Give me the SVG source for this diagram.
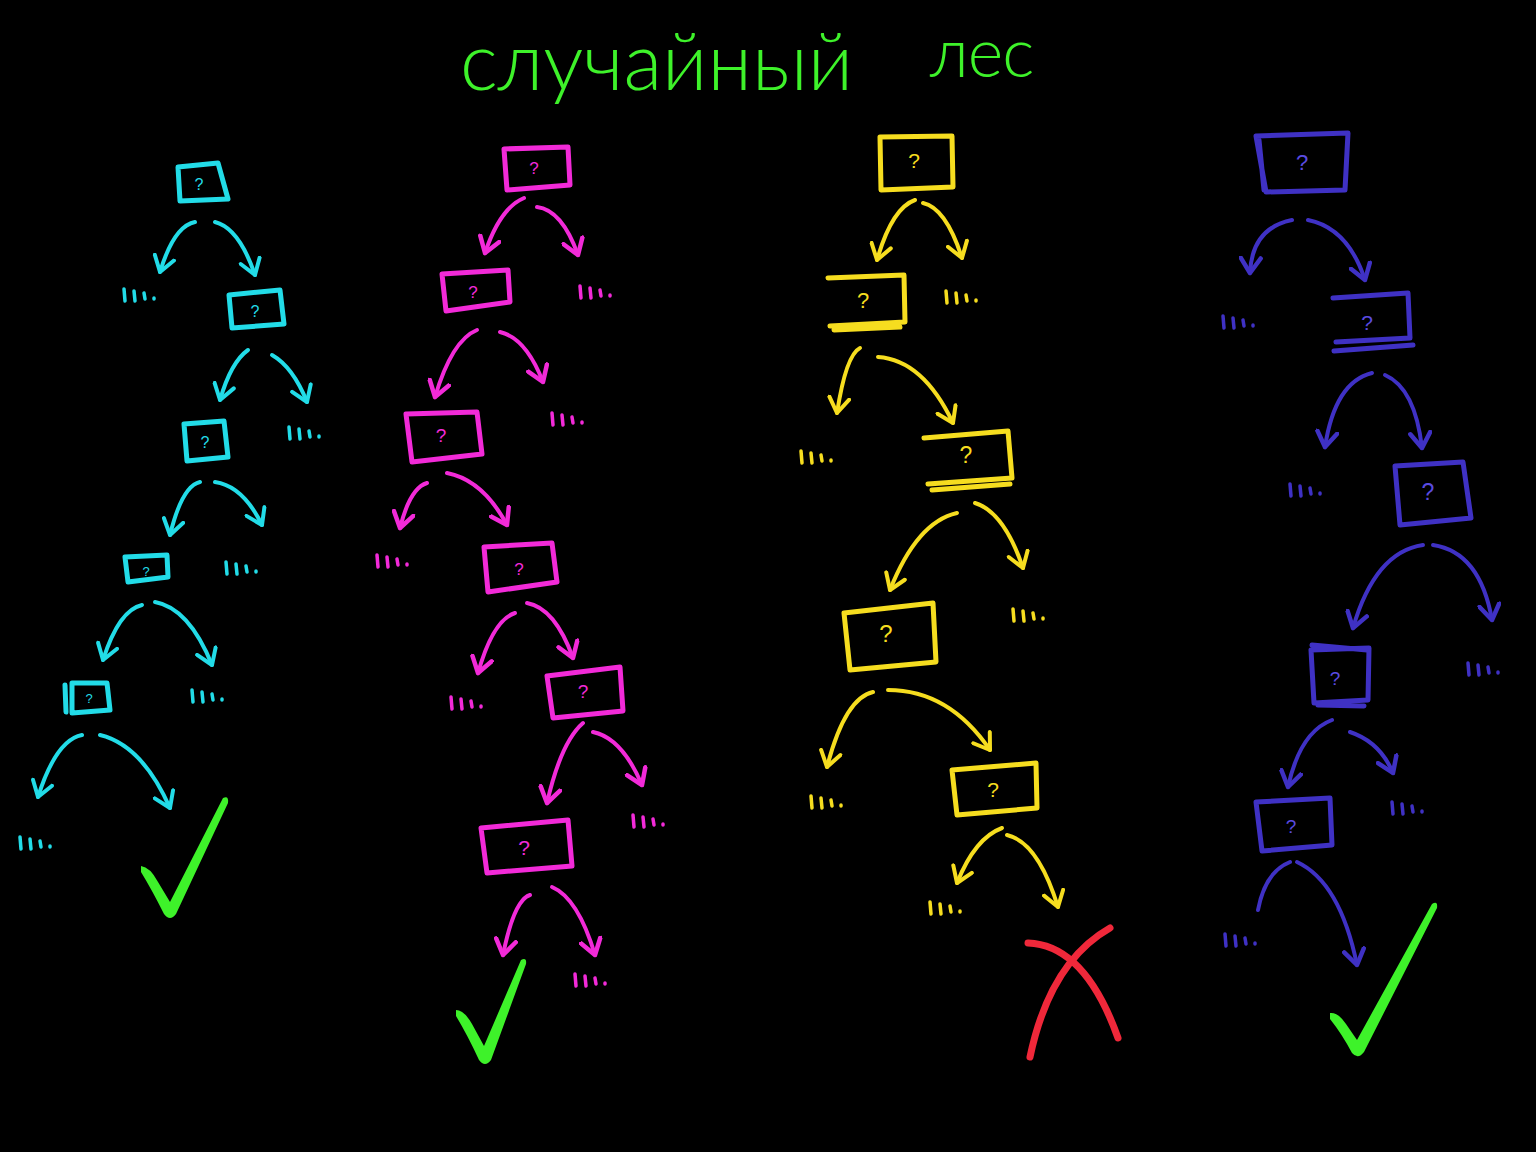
<svg xmlns="http://www.w3.org/2000/svg" xmlns:xlink="http://www.w3.org/1999/xlink" width="1536" height="1152" viewBox="0 0 1536 1152">
<style>
.bg{fill:#000}
.box{fill:none;stroke-width:5;stroke-linejoin:round;stroke-linecap:round}
.q{font-family:"Liberation Sans",Arial,sans-serif;text-anchor:middle}
.arr{fill:none;stroke-width:4;stroke-linecap:round}
.cy{stroke:#22dce8;color:#22dce8}
.mg{stroke:#f22ad8;color:#f22ad8}
.ye{stroke:#f6dd1f;color:#f6dd1f}
.bl{stroke:#3f31c4;color:#3f31c4}
.tcy{fill:#22dce8}.tmg{fill:#f22ad8}.tye{fill:#f6dd1f}.tbl{fill:#5a4be0}
.title{font-family:"Lato","Liberation Sans",sans-serif;font-weight:300;fill:#3ef22a}
.ok{fill:#3ef22a}
.no{fill:none;stroke:#f0283a;stroke-width:7;stroke-linecap:round}
</style>
<defs>
<marker id="hcy" viewBox="0 0 20 24" refX="17" refY="12" markerWidth="20" markerHeight="24" markerUnits="userSpaceOnUse" orient="auto"><path d="M2,2 L17,12 L2,22" fill="none" stroke="#22dce8" stroke-width="4" stroke-linecap="round" stroke-linejoin="round"/></marker>
<marker id="hmg" viewBox="0 0 20 24" refX="17" refY="12" markerWidth="20" markerHeight="24" markerUnits="userSpaceOnUse" orient="auto"><path d="M2,2 L17,12 L2,22" fill="none" stroke="#f22ad8" stroke-width="4.5" stroke-linecap="round" stroke-linejoin="round"/></marker>
<marker id="hye" viewBox="0 0 20 24" refX="17" refY="12" markerWidth="20" markerHeight="24" markerUnits="userSpaceOnUse" orient="auto"><path d="M2,2 L17,12 L2,22" fill="none" stroke="#f6dd1f" stroke-width="4" stroke-linecap="round" stroke-linejoin="round"/></marker>
<marker id="hbl" viewBox="0 0 20 24" refX="17" refY="12" markerWidth="20" markerHeight="24" markerUnits="userSpaceOnUse" orient="auto"><path d="M2,2 L17,12 L2,22" fill="none" stroke="#3f31c4" stroke-width="4.5" stroke-linecap="round" stroke-linejoin="round"/></marker>
<path id="ell" d="M0,-12 L1,0 M10,-10 L11,0 M20,-8 L21,-2 M30,-3 L30,-2" fill="none" stroke="currentColor" stroke-width="3.5" stroke-linecap="round"/>
</defs>
<rect class="bg" x="0" y="0" width="1536" height="1152"/>

<g id="title">
<text class="title" x="460" y="90" font-size="80">случайный</text>
<text class="title" x="930" y="77" font-size="68" letter-spacing="-1">лес</text>
</g>

<g id="tree-cyan">
<g id="c1"><path class="box cy" d="M178,167 L218,163 L228,199 L180,201 Z"/><text class="q tcy" x="199" y="190" font-size="16">?</text></g>
<g id="c2"><path class="box cy" d="M229,295 L280,290 L284,324 L232,328 Z"/><text class="q tcy" x="255" y="317" font-size="16">?</text></g>
<g id="c3"><path class="box cy" d="M184,424 L224,421 L228,457 L187,461 Z"/><text class="q tcy" x="205" y="448" font-size="16">?</text></g>
<g id="c4"><path class="box cy" d="M125,557 L167,555 L168,577 L128,582 Z"/><text class="q tcy" x="146" y="576" font-size="13">?</text></g>
<g id="c5"><path class="box cy" d="M72,683 L107,683 L110,710 L72,713 Z M65,685 L66,712"/><text class="q tcy" x="89" y="703" font-size="13">?</text></g>
</g>

<g id="tree-magenta">
<g id="m1"><path class="box mg" d="M504,149 L568,147 L570,185 L507,190 Z"/><text class="q tmg" x="534" y="174" font-size="17">?</text></g>
<g id="m2"><path class="box mg" d="M442,274 L508,270 L510,302 L446,311 Z"/><text class="q tmg" x="473" y="298" font-size="17">?</text></g>
<g id="m3"><path class="box mg" d="M406,414 L477,412 L482,454 L412,462 Z"/><text class="q tmg" x="441" y="442" font-size="19">?</text></g>
<g id="m4"><path class="box mg" d="M484,547 L552,543 L557,582 L488,592 Z"/><text class="q tmg" x="519" y="575" font-size="17">?</text></g>
<g id="m5"><path class="box mg" d="M547,676 L620,667 L623,711 L553,718 Z"/><text class="q tmg" x="583" y="698" font-size="19">?</text></g>
<g id="m6"><path class="box mg" d="M481,828 L568,820 L572,866 L487,873 Z"/><text class="q tmg" x="524" y="855" font-size="21">?</text></g>
</g>

<g id="tree-yellow">
<g id="y1"><path class="box ye" d="M880,137 L952,136 L953,187 L881,190 Z"/><text class="q tye" x="914" y="168" font-size="21">?</text></g>
<g id="y2"><path class="box ye" d="M828,278 L904,275 L905,322 L830,326 M834,330 L900,327"/><text class="q tye" x="863" y="308" font-size="22">?</text></g>
<g id="y3"><path class="box ye" d="M924,438 L1008,431 L1012,478 L928,484 M932,490 L1010,484"/><text class="q tye" x="966" y="463" font-size="23">?</text></g>
<g id="y4"><path class="box ye" d="M844,613 L933,603 L936,662 L850,670 Z"/><text class="q tye" x="886" y="642" font-size="24">?</text></g>
<g id="y5"><path class="box ye" d="M952,770 L1036,763 L1037,808 L957,815 Z"/><text class="q tye" x="993" y="797" font-size="21">?</text></g>
</g>

<g id="tree-blue">
<g id="b1"><path class="box bl" d="M1256,136 L1348,133 L1345,190 L1266,192 Z M1259,140 L1264,190" stroke-width="7"/><text class="q tbl" x="1302" y="170" font-size="22">?</text></g>
<g id="b2"><path class="box bl" d="M1333,298 L1408,293 L1410,338 L1336,342 M1334,351 L1413,345"/><text class="q tbl" x="1367" y="330" font-size="21">?</text></g>
<g id="b3"><path class="box bl" d="M1395,466 L1463,462 L1471,518 L1400,525 Z"/><text class="q tbl" x="1428" y="500" font-size="23">?</text></g>
<g id="b4"><path class="box bl" d="M1311,650 L1369,648 L1368,700 L1314,703 Z M1312,645 L1367,650 M1318,705 L1364,706" stroke-width="6"/><text class="q tbl" x="1335" y="685" font-size="19">?</text></g>
<g id="b5"><path class="box bl" d="M1256,802 L1330,798 L1332,845 L1262,851 Z" stroke-width="7"/><text class="q tbl" x="1291" y="833" font-size="19">?</text></g>
</g>

<g id="ellipses">
<use href="#ell" x="124" y="301" style="color:#22dce8"/>
<use href="#ell" x="289" y="439" style="color:#22dce8"/>
<use href="#ell" x="226" y="574" style="color:#22dce8"/>
<use href="#ell" x="192" y="702" style="color:#22dce8"/>
<use href="#ell" x="20" y="849" style="color:#22dce8"/>
<use href="#ell" x="580" y="298" style="color:#f22ad8"/>
<use href="#ell" x="552" y="425" style="color:#f22ad8"/>
<use href="#ell" x="377" y="567" style="color:#f22ad8"/>
<use href="#ell" x="451" y="709" style="color:#f22ad8"/>
<use href="#ell" x="633" y="827" style="color:#f22ad8"/>
<use href="#ell" x="575" y="986" style="color:#f22ad8"/>
<use href="#ell" x="801" y="463" style="color:#f6dd1f"/>
<use href="#ell" x="946" y="303" style="color:#f6dd1f"/>
<use href="#ell" x="1013" y="621" style="color:#f6dd1f"/>
<use href="#ell" x="811" y="808" style="color:#f6dd1f"/>
<use href="#ell" x="930" y="914" style="color:#f6dd1f"/>
<use href="#ell" x="1223" y="328" style="color:#3f31c4"/>
<use href="#ell" x="1290" y="496" style="color:#3f31c4"/>
<use href="#ell" x="1468" y="675" style="color:#3f31c4"/>
<use href="#ell" x="1392" y="814" style="color:#3f31c4"/>
<use href="#ell" x="1225" y="946" style="color:#3f31c4"/>
</g>

<g id="connectors">
<path class="arr cy" marker-end="url(#hcy)" d="M195,222 Q174,226 160,272"/>
<path class="arr cy" marker-end="url(#hcy)" d="M215,222 Q239,228 255,275"/>
<path class="arr cy" marker-end="url(#hcy)" d="M248,350 Q231,362 220,400"/>
<path class="arr cy" marker-end="url(#hcy)" d="M272,355 Q293,367 307,402"/>
<path class="arr cy" marker-end="url(#hcy)" d="M200,482 Q182,486 170,535"/>
<path class="arr cy" marker-end="url(#hcy)" d="M215,482 Q243,486 262,525"/>
<path class="arr cy" marker-end="url(#hcy)" d="M142,605 Q119,610 103,660"/>
<path class="arr cy" marker-end="url(#hcy)" d="M155,602 Q189,608 212,665"/>
<path class="arr cy" marker-end="url(#hcy)" d="M82,735 Q56,740 38,797"/>
<path class="arr cy" marker-end="url(#hcy)" d="M100,735 Q142,745 170,808"/>

<path class="arr mg" marker-end="url(#hmg)" d="M524,198 Q500,208 485,253"/>
<path class="arr mg" marker-end="url(#hmg)" d="M537,207 Q562,210 578,255"/>
<path class="arr mg" marker-end="url(#hmg)" d="M477,330 Q452,340 435,397"/>
<path class="arr mg" marker-end="url(#hmg)" d="M500,332 Q526,338 543,382"/>
<path class="arr mg" marker-end="url(#hmg)" d="M427,483 Q410,488 400,528"/>
<path class="arr mg" marker-end="url(#hmg)" d="M447,473 Q483,480 507,525"/>
<path class="arr mg" marker-end="url(#hmg)" d="M515,613 Q493,620 478,673"/>
<path class="arr mg" marker-end="url(#hmg)" d="M527,603 Q555,608 573,658"/>
<path class="arr mg" marker-end="url(#hmg)" d="M583,723 Q561,742 547,803"/>
<path class="arr mg" marker-end="url(#hmg)" d="M593,732 Q622,738 642,785"/>
<path class="arr mg" marker-end="url(#hmg)" d="M530,895 Q514,900 503,955"/>
<path class="arr mg" marker-end="url(#hmg)" d="M552,887 Q578,898 595,955"/>

<path class="arr ye" marker-end="url(#hye)" d="M915,200 Q892,208 877,260"/>
<path class="arr ye" marker-end="url(#hye)" d="M923,203 Q946,208 962,258"/>
<path class="arr ye" marker-end="url(#hye)" d="M860,348 Q846,355 837,413"/>
<path class="arr ye" marker-end="url(#hye)" d="M878,357 Q923,360 953,423"/>
<path class="arr ye" marker-end="url(#hye)" d="M957,513 Q917,522 890,590"/>
<path class="arr ye" marker-end="url(#hye)" d="M975,503 Q1004,512 1023,568"/>
<path class="arr ye" marker-end="url(#hye)" d="M873,692 Q845,698 827,767"/>
<path class="arr ye" marker-end="url(#hye)" d="M888,690 Q949,690 990,750"/>
<path class="arr ye" marker-end="url(#hye)" d="M1002,828 Q975,838 957,883"/>
<path class="arr ye" marker-end="url(#hye)" d="M1007,835 Q1038,842 1058,907"/>

<path class="arr bl" marker-end="url(#hbl)" d="M1292,220 Q1252,228 1250,273"/>
<path class="arr bl" marker-end="url(#hbl)" d="M1308,220 Q1348,228 1365,280"/>
<path class="arr bl" marker-end="url(#hbl)" d="M1372,373 Q1335,382 1325,447"/>
<path class="arr bl" marker-end="url(#hbl)" d="M1385,375 Q1415,388 1422,448"/>
<path class="arr bl" marker-end="url(#hbl)" d="M1423,545 Q1375,552 1353,628"/>
<path class="arr bl" marker-end="url(#hbl)" d="M1433,545 Q1480,552 1492,620"/>
<path class="arr bl" marker-end="url(#hbl)" d="M1332,720 Q1300,732 1288,787"/>
<path class="arr bl" marker-end="url(#hbl)" d="M1350,732 Q1380,742 1393,773"/>
<path class="arr bl" d="M1290,862 Q1265,872 1258,910"/>
<path class="arr bl" marker-end="url(#hbl)" d="M1297,862 Q1340,882 1357,965"/>
</g>

<g id="verdicts">
<path id="check-cyan" class="ok" d="M141,866 Q150,867 158,882 L170,902 L223,798 Q229,795 228,803 L176,914 Q170,922 164,914 Q152,890 141,872 Z"/>
<path id="check-magenta" class="ok" d="M456,1010 Q464,1010 472,1024 L484,1046 L521,960 Q527,957 526,964 L491,1060 Q485,1068 479,1060 Q468,1036 456,1016 Z"/>
<path id="cross-yellow" class="no" d="M1028,943 Q1085,945 1118,1038 M1110,928 Q1050,962 1030,1057"/>
<path id="check-blue" class="ok" d="M1330,1013 Q1338,1012 1346,1024 L1357,1040 L1432,904 Q1438,900 1437,908 L1364,1052 Q1358,1060 1352,1053 Q1342,1034 1330,1019 Z"/>
</g>
</svg>
